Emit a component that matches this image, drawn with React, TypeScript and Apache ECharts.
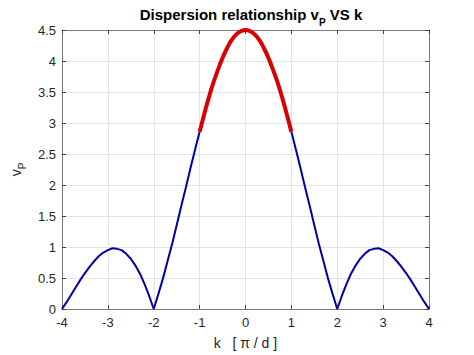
import React, { useEffect, useRef } from "react";
import * as echarts from "echarts";

const kLeft = [-4, -3.9, -3.8, -3.7, -3.6, -3.5, -3.4, -3.3, -3.2, -3.1, -3, -2.9, -2.8, -2.7, -2.6, -2.5, -2.4, -2.3, -2.2, -2.1, -2, -1.9, -1.8, -1.7, -1.6, -1.5, -1.4, -1.3, -1.2, -1.1, -1];
const vLeft = [0, 0.11, 0.23, 0.35, 0.47, 0.58, 0.68, 0.77, 0.85, 0.91, 0.95, 0.98, 0.97, 0.95, 0.89, 0.81, 0.7, 0.57, 0.4, 0.21, 0, 0.24, 0.49, 0.77, 1.05, 1.35, 1.66, 1.96, 2.27, 2.57, 2.86];
const kMid = [-1, -0.9, -0.8, -0.7, -0.6, -0.5, -0.4, -0.3, -0.2, -0.1, 0, 0.1, 0.2, 0.3, 0.4, 0.5, 0.6, 0.7, 0.8, 0.9, 1];
const vMid = [2.86, 3.14, 3.41, 3.65, 3.86, 4.05, 4.21, 4.34, 4.43, 4.48, 4.5, 4.48, 4.43, 4.34, 4.21, 4.05, 3.86, 3.65, 3.41, 3.14, 2.86];
const kRight = [1, 1.1, 1.2, 1.3, 1.4, 1.5, 1.6, 1.7, 1.8, 1.9, 2, 2.1, 2.2, 2.3, 2.4, 2.5, 2.6, 2.7, 2.8, 2.9, 3, 3.1, 3.2, 3.3, 3.4, 3.5, 3.6, 3.7, 3.8, 3.9, 4];
const vRight = [2.86, 2.57, 2.27, 1.96, 1.66, 1.35, 1.05, 0.77, 0.49, 0.24, 0, 0.21, 0.4, 0.57, 0.7, 0.81, 0.89, 0.95, 0.97, 0.98, 0.95, 0.91, 0.85, 0.77, 0.68, 0.58, 0.47, 0.35, 0.23, 0.11, 0];

const zip = (a: number[], b: number[]) => a.map((x, i) => [x, b[i]]);

const FONT = "'Liberation Sans', Arial, Helvetica, sans-serif";
const TXT = "#262626";
const AX = "#7a7a7a";

export default function App() {
  const ref = useRef<HTMLDivElement>(null);
  useEffect(() => {
    if (!ref.current) return;
    const chart = echarts.init(ref.current, undefined, { renderer: "svg" });
    const axisLine = { show: true, onZero: false, lineStyle: { color: AX, width: 1 } };
    const axisTick = { show: true, inside: true, length: 4, lineStyle: { color: "#444" } };
    const splitLine = { show: true, lineStyle: { color: "#e3e3e3", width: 1 } };
    chart.setOption({
      animation: false,
      backgroundColor: "#ffffff",
      title: {
        text: "{a|Dispersion relationship v}{s|P}{a| VS k}",
        left: 246,
        textAlign: "center",
        top: 2,
        textStyle: {
          rich: {
            a: { fontFamily: FONT, fontSize: 15, fontWeight: "bold", color: "#000", lineHeight: 20, verticalAlign: "top" },
            s: { fontFamily: FONT, fontSize: 10, fontWeight: "bold", color: "#000", lineHeight: 20, padding: [10, 0, 0, 0], verticalAlign: "top" },
          },
        },
      },
      grid: { left: 62, right: 45, top: 30, bottom: 42, containLabel: false },
      xAxis: [
        {
          type: "value", min: -4, max: 4, interval: 1,
          axisLine, axisTick, splitLine,
          axisLabel: { color: TXT, fontFamily: FONT, fontSize: 13, margin: 7 },
          name: "{a|k   [ π / d ]}",
          nameLocation: "middle", nameGap: 27,
          nameTextStyle: { rich: { a: { color: TXT, fontFamily: FONT, fontSize: 14 } } },
        },
        {
          type: "value", position: "top", min: -4, max: 4, interval: 1,
          axisLine, axisTick, splitLine: { show: false }, axisLabel: { show: false },
        },
      ],
      yAxis: [
        {
          type: "value", min: 0, max: 4.5, interval: 0.5,
          axisLine, axisTick, splitLine,
          axisLabel: { color: TXT, fontFamily: FONT, fontSize: 13, margin: 6 },
          name: "{a|v}{s|P}",
          nameLocation: "middle", nameGap: 37, nameRotate: 90,
          nameTextStyle: {
            rich: {
              a: { color: TXT, fontFamily: FONT, fontSize: 14, lineHeight: 16, verticalAlign: "top" },
              s: { color: TXT, fontFamily: FONT, fontSize: 10, lineHeight: 16, padding: [8, 0, 0, 0], verticalAlign: "top" },
            },
          },
        },
        {
          type: "value", position: "right", min: 0, max: 4.5, interval: 0.5,
          axisLine, axisTick, splitLine: { show: false }, axisLabel: { show: false },
        },
      ],
      series: [
        { type: "line", data: zip(kLeft, vLeft), showSymbol: false, symbol: "none", lineStyle: { color: "#0000a8", width: 2 }, z: 3 },
        { type: "line", data: zip(kRight, vRight), showSymbol: false, symbol: "none", lineStyle: { color: "#0000a8", width: 2 }, z: 3 },
        { type: "line", data: zip(kMid, vMid), showSymbol: false, symbol: "none", smooth: true, lineStyle: { color: "#d80000", width: 4 }, z: 4 },
      ],
    });
    return () => chart.dispose();
  }, []);
  return <div ref={ref} style={{ position: "absolute", left: 0, top: 0, width: 474, height: 355 }} />;
}
